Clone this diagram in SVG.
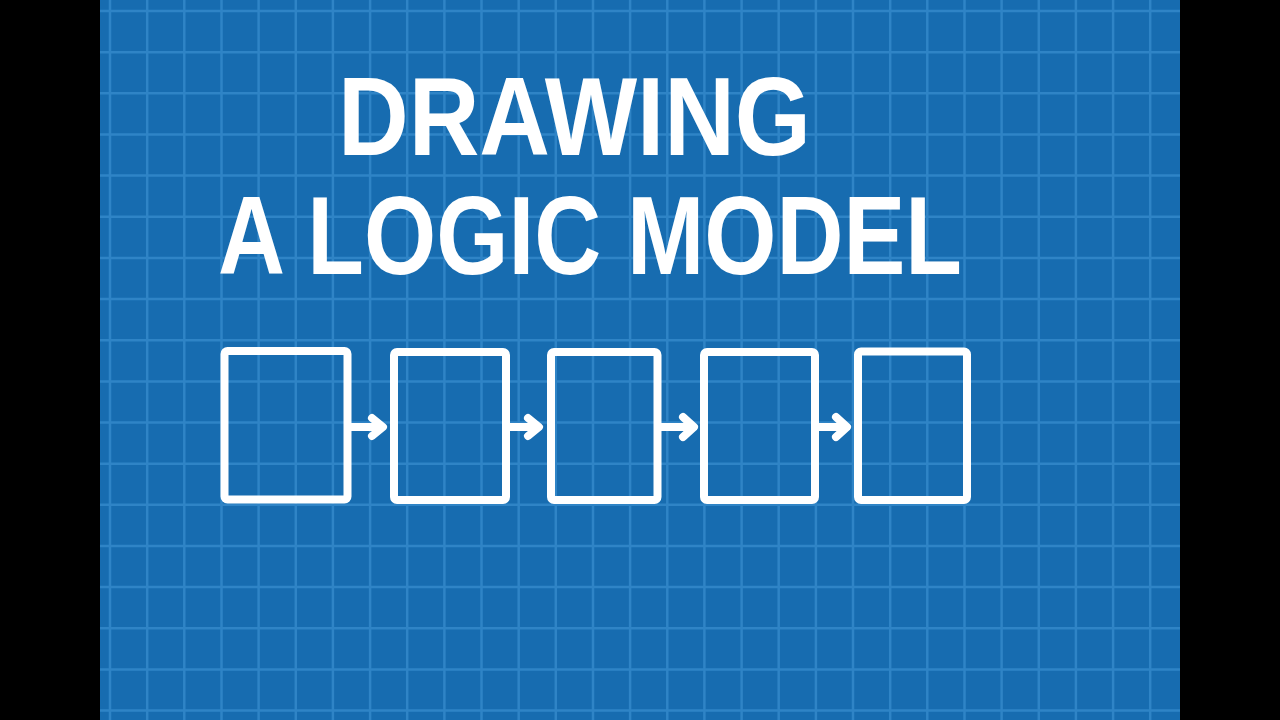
<svg xmlns="http://www.w3.org/2000/svg" width="1280" height="720" viewBox="0 0 1280 720">
<style>
.grid{stroke:#2f84c6;stroke-width:2.5;fill:none}
.box{fill:none;stroke:#ffffff;stroke-width:8;stroke-linejoin:round}
.conn{fill:none;stroke:#ffffff;stroke-width:8;stroke-linecap:round;stroke-linejoin:round}
.title{font-family:"Liberation Sans",Arial,sans-serif;font-weight:bold;font-size:112px;fill:#ffffff}
</style>
<rect x="0" y="0" width="1280" height="720" fill="#000000"/>
<rect x="100" y="0" width="1080" height="720" fill="#176cb0"/>
<path class="grid" d="M110 0V720M147.2 0V720M184.3 0V720M221.5 0V720M258.6 0V720M295.8 0V720M332.9 0V720M370.1 0V720M407.2 0V720M444.4 0V720M481.5 0V720M518.7 0V720M555.8 0V720M593 0V720M630.1 0V720M667.3 0V720M704.4 0V720M741.6 0V720M778.7 0V720M815.9 0V720M853 0V720M890.2 0V720M927.3 0V720M964.5 0V720M1001.6 0V720M1038.8 0V720M1075.9 0V720M1113.1 0V720M1150.2 0V720M100 11H1180M100 52.2H1180M100 93.3H1180M100 134.5H1180M100 175.6H1180M100 216.8H1180M100 257.9H1180M100 299.1H1180M100 340.2H1180M100 381.4H1180M100 422.5H1180M100 463.7H1180M100 504.8H1180M100 546H1180M100 587.1H1180M100 628.3H1180M100 669.4H1180M100 710.6H1180"/>
<g id="title">
<text class="title" x="338" y="155" textLength="473" lengthAdjust="spacingAndGlyphs">DRAWING</text>
<text class="title" x="218" y="274" textLength="744" lengthAdjust="spacingAndGlyphs">A LOGIC MODEL</text>
</g>
<g id="connectors">
<path class="conn" d="M351 427H381M372 418L383 427L372 436"/>
<path class="conn" d="M510 427H537M528 418L539 427L528 436"/>
<path class="conn" d="M661 427H692M683 417L694 427L683 437"/>
<path class="conn" d="M819 427H845M836 417L847 427L836 437"/>
</g>
<g id="box1"><rect class="box" x="224.5" y="351" width="123" height="148.5" rx="3"/></g>
<g id="box2"><rect class="box" x="394" y="352" width="112" height="148" rx="3"/></g>
<g id="box3"><rect class="box" x="551" y="352" width="106.5" height="148" rx="3"/></g>
<g id="box4"><rect class="box" x="704" y="352" width="111" height="148" rx="3"/></g>
<g id="box5"><rect class="box" x="858" y="351.5" width="109" height="148.5" rx="3"/></g>
</svg>
